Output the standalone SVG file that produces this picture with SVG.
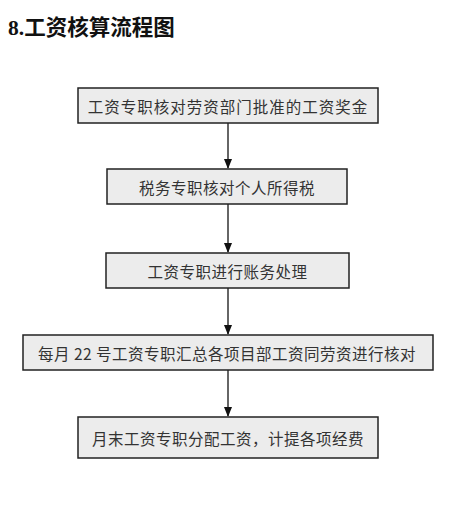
<svg xmlns="http://www.w3.org/2000/svg" width="460" height="515" viewBox="0 0 460 515">
<style>
.box{fill:#ececec;stroke:#222;stroke-width:1.5}
.t{font-family:"Noto Sans CJK SC","Noto Sans",sans-serif;font-size:15.5px;fill:#333;text-anchor:middle;dominant-baseline:central}
.title{font-family:"Liberation Serif","Noto Sans CJK SC",serif;font-size:21.5px;font-weight:bold;fill:#111}
.c{stroke:#333;stroke-width:1.5;fill:none}
</style>
<defs>
<marker id="ah" markerWidth="10" markerHeight="8" refX="9" refY="4" orient="auto" markerUnits="userSpaceOnUse">
<path d="M0,0 L10,4 L0,8 Z" fill="#111"/>
</marker>
</defs>
<rect width="460" height="515" fill="#fff"/>
<text class="title" x="8" y="35">8.<tspan font-family="Noto Sans CJK SC,sans-serif">工资核算流程图</tspan></text>
<g id="connectors">
<line class="c" x1="228" y1="123" x2="228" y2="168" marker-end="url(#ah)"/>
<line class="c" x1="228" y1="204" x2="228" y2="252" marker-end="url(#ah)"/>
<line class="c" x1="228" y1="288" x2="228" y2="334" marker-end="url(#ah)"/>
<line class="c" x1="228" y1="370" x2="228" y2="416" marker-end="url(#ah)"/>
</g>
<g id="n1"><rect class="box" x="78" y="88" width="300" height="35"/><text class="t" x="228" y="105.5" letter-spacing="1">工资专职核对劳资部门批准的工资奖金</text></g>
<g id="n2"><rect class="box" x="107" y="169" width="240" height="35"/><text class="t" x="227" y="186.5" letter-spacing="0.5">税务专职核对个人所得税</text></g>
<g id="n3"><rect class="box" x="106" y="253" width="243" height="35"/><text class="t" x="227.5" y="270.5" letter-spacing="0.5">工资专职进行账务处理</text></g>
<g id="n4"><rect class="box" x="23" y="335" width="410" height="35"/><text class="t" x="227" y="352.5" letter-spacing="0.5">每月 22 号工资专职汇总各项目部工资同劳资进行核对</text></g>
<g id="n5"><rect class="box" x="78" y="417" width="300" height="41"/><text class="t" x="228" y="437.5" letter-spacing="0.5">月末工资专职分配工资，计提各项经费</text></g>
</svg>
